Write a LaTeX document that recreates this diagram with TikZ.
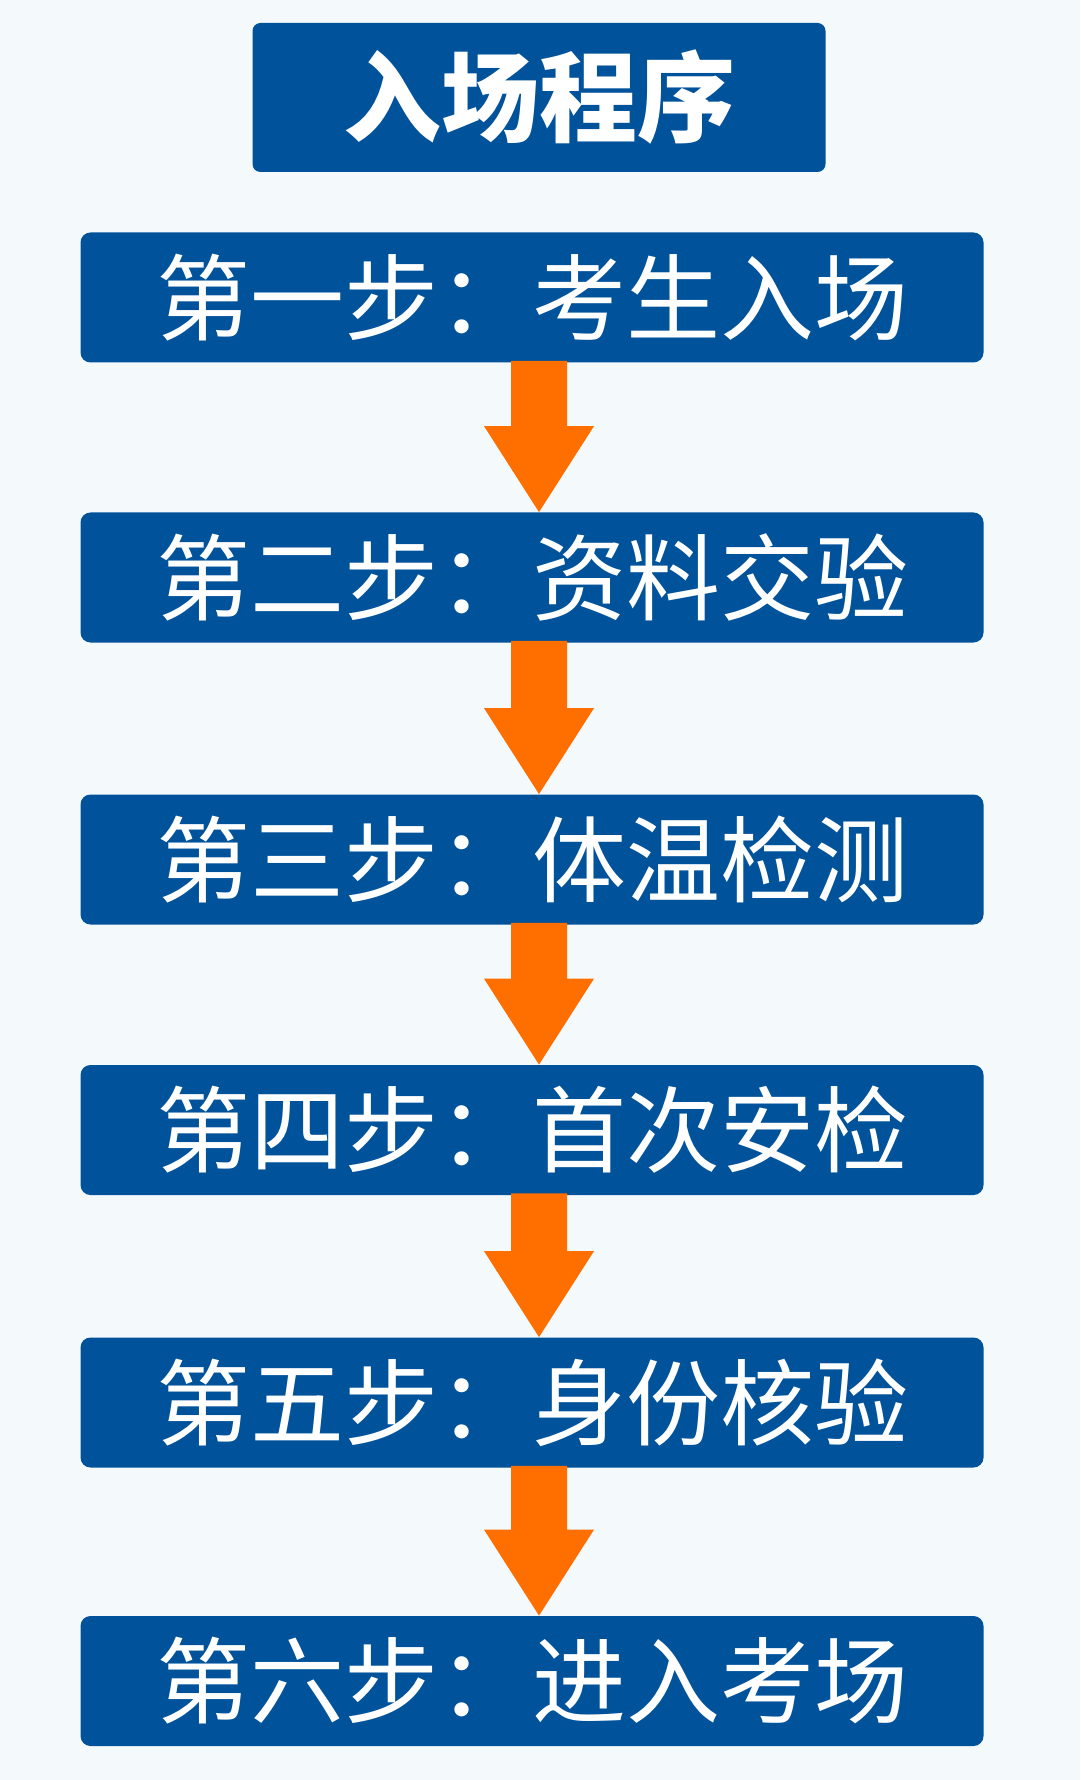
\documentclass[tikz,border=0pt]{standalone}
\usepackage{fontspec}
\setmainfont{Noto Sans CJK SC}
\usetikzlibrary{calc}
\definecolor{stepblue}{RGB}{0,82,155}
\definecolor{steporange}{RGB}{255,111,0}
\definecolor{paper}{RGB}{244,249,252}
\begin{document}
\begin{tikzpicture}[x=0.5pt, y=-0.5pt,
    titlebox/.style={fill=stepblue, rounded corners=4pt, minimum width=286.5pt, minimum height=74.5pt,
      inner sep=0pt, text=white, font=\fontsize{49}{49}\selectfont\bfseries},
    stepbox/.style={fill=stepblue, rounded corners=5pt, minimum width=451.5pt, minimum height=65pt,
      inner sep=0pt, text=white, font=\fontsize{47}{47}\selectfont},
    downarrow/.style={fill=steporange}]
  \fill [paper] (0,0) rectangle (1080,1780);
  \useasboundingbox (0,0) rectangle (1080,1780);
  \coordinate (ax) at (539,0);
  \node [titlebox] (title) at (539,97.5) {入场程序};
  \node [stepbox] (s1) at (532,297.5) {第一步：考生入场};
  \node [stepbox] (s2) at (532,577.5) {第二步：资料交验};
  \node [stepbox] (s3) at (532,859.5) {第三步：体温检测};
  \node [stepbox] (s4) at (532,1130) {第四步：首次安检};
  \node [stepbox] (s5) at (532,1402.5) {第五步：身份核验};
  \node [stepbox] (s6) at (532,1681) {第六步：进入考场};
  % arrows between the steps
  \foreach \a/\b in {s1/s2, s2/s3, s3/s4, s4/s5, s5/s6}
    \fill [downarrow] ($(\a.south -| ax)+(-28,-2)$) -- ($(\a.south -| ax)+(28,-2)$)
      -- ($(\b.north -| ax)+(28,-86)$) -- ($(\b.north -| ax)+(55,-86)$)
      -- (\b.north -| ax) -- ($(\b.north -| ax)+(-55,-86)$)
      -- ($(\b.north -| ax)+(-28,-86)$) -- cycle;
\end{tikzpicture}
\end{document}
